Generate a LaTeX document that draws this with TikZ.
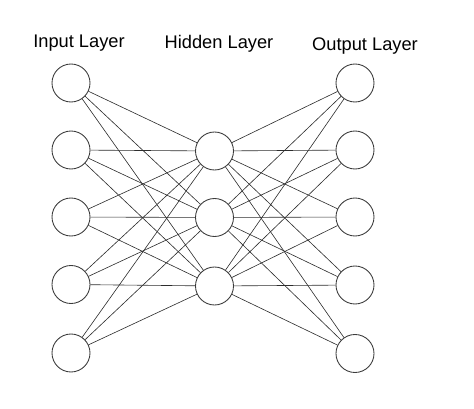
\documentclass[tikz,border=0pt]{standalone}
\usepackage{fontspec}
\setmainfont{Liberation Sans}
\usetikzlibrary{positioning}
\definecolor{nnline}{RGB}{45,45,45}
\definecolor{nnring}{RGB}{60,60,60}

\begin{document}
\begin{tikzpicture}[x=0.02cm, y=-0.02cm,
    neuron/.style={circle, draw=nnring, line width=0.5pt, fill=white, minimum size=0.76cm, inner sep=0pt},
    synapse/.style={nnline, line width=0.35pt},
    layerlabel/.style={font=\fontsize{10.4}{12}\selectfont, anchor=base}]
  \useasboundingbox (0,0) rectangle (474,409);
  % --- labels ---
  \node[layerlabel] (lblIn) at (79,48) {Input Layer};
  \node[layerlabel] (lblHid) at (219,49) {Hidden Layer};
  \node[layerlabel] (lblOut) at (365,50.5) {Output Layer};
  % --- neurons ---
  \foreach \i/\y in {1/83, 2/150, 3/217, 4/284.5, 5/353}
    \node[neuron] (in\i) at (71,\y) {};
  \foreach \j/\y in {1/151, 2/217.5, 3/286}
    \node[neuron] (hid\j) at (214.5,\y) {};
  \foreach \k/\y in {1/83, 2/150, 3/217, 4/285, 5/353.5}
    \node[neuron] (out\k) at (355,\y) {};
  % --- connections ---
  \foreach \i in {1,...,5}
    \foreach \j in {1,2,3}
      \draw[synapse] (in\i) -- (hid\j);
  \foreach \j in {1,2,3}
    \foreach \k in {1,...,5}
      \draw[synapse] (hid\j) -- (out\k);
\end{tikzpicture}
\end{document}
